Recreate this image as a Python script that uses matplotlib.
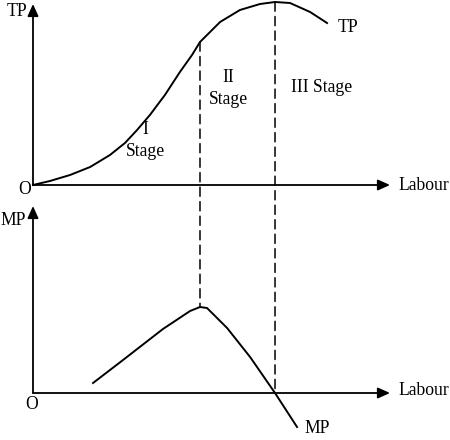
import matplotlib
matplotlib.use('Agg')
import matplotlib.pyplot as plt
from matplotlib.patches import ConnectionPatch

plt.rcParams['font.family'] = ['Liberation Serif', 'DejaVu Serif']

# Total product curve (labour units, output units)
tp_labour = [0, 0.70, 1.53, 2.36, 3.18, 3.80, 4.30, 4.83, 5.45, 6.07, 6.57, 6.90,
             7.73, 8.55, 9.38, 10.0, 10.62, 11.45, 12.15]
tp_values = [0, 0.4, 1.0, 1.8, 3.0, 4.2, 5.5, 7.0, 9.0, 11.3, 13.0, 14.3,
             16.3, 17.5, 18.1, 18.3, 18.2, 17.3, 16.2]

# Marginal product curve
mp_labour = [2.48, 3.72, 5.37, 6.49, 6.90, 7.19, 8.02, 8.97, 10.0, 10.91]
mp_values = [1.0, 3.3, 6.4, 8.2, 8.6, 8.5, 6.5, 3.6, 0.0, -3.4]

# Stage boundaries: MP peak (inflection of TP) and TP peak (MP = 0)
stage_bounds = [6.90, 10.0]
stage_tp_top = [14.3, 18.3]
stage_mp_bottom = [8.6, 0.0]

fig = plt.figure(figsize=(4.5, 4.4), dpi=100)
ax1 = fig.add_axes([33 / 450, 255 / 440, 417 / 450, 185 / 440])
ax2 = fig.add_axes([33 / 450, 0, 417 / 450, 240 / 440])
ax1.set_xlim(0, 17.23)
ax1.set_ylim(0, 18.5)
ax2.set_xlim(0, 17.23)
ax2.set_ylim(-4.7, 19.3)
for ax in (ax1, ax2):
    ax.axis('off')

arrow = dict(arrowstyle='-|>,head_length=0.4,head_width=0.18', lw=1.3, color='black',
             mutation_scale=18, shrinkA=0, shrinkB=0)
fs = 12.7

# top panel: TP
ax1.annotate('', xy=(14.75, 0), xytext=(0, 0), arrowprops=arrow, annotation_clip=False)
ax1.annotate('', xy=(0, 18.1), xytext=(0, 0), arrowprops=arrow, annotation_clip=False)
ax1.plot(tp_labour, tp_values, color='black', lw=1.4, clip_on=False, solid_joinstyle='round')
ax1.text(-0.33, -0.5, 'O', fontsize=fs, ha='center', va='center')
ax1.text(15.12, -0.1, 'Labour', fontsize=fs, ha='left', va='center')
ax1.text(-0.25, 17.3, 'TP', fontsize=fs, ha='right', va='center')
ax1.text(12.6, 15.7, 'TP', fontsize=fs, ha='left', va='center')
ax1.text(4.63, 5.5, 'I', fontsize=fs, ha='center', va='center')
ax1.text(4.63, 3.3, 'Stage', fontsize=fs, ha='center', va='center')
ax1.text(8.06, 10.8, 'II', fontsize=fs, ha='center', va='center')
ax1.text(8.06, 8.5, 'Stage', fontsize=fs, ha='center', va='center')
ax1.text(11.94, 9.7, 'III Stage', fontsize=fs, ha='center', va='center')

# bottom panel: MP
ax2.annotate('', xy=(14.75, 0), xytext=(0, 0), arrowprops=arrow, annotation_clip=False)
ax2.annotate('', xy=(0, 18.7), xytext=(0, 0), arrowprops=arrow, annotation_clip=False)
ax2.plot(mp_labour, mp_values, color='black', lw=1.4, clip_on=False, solid_joinstyle='round')
ax2.text(-0.04, -1.1, 'O', fontsize=fs, ha='center', va='center')
ax2.text(15.12, 0.3, 'Labour', fontsize=fs, ha='left', va='center')
ax2.text(-0.3, 17.3, 'MP', fontsize=fs, ha='right', va='center')
ax2.text(11.2, -3.5, 'MP', fontsize=fs, ha='left', va='center')

# dashed stage boundaries running through both panels
for x, top, bottom in zip(stage_bounds, stage_tp_top, stage_mp_bottom):
    con = ConnectionPatch(xyA=(x, top), coordsA=ax1.transData,
                          xyB=(x, bottom), coordsB=ax2.transData,
                          color='black', lw=1.1, linestyle=(0, (6, 3.5)))
    fig.add_artist(con)

fig.savefig('out.png', dpi=100)
